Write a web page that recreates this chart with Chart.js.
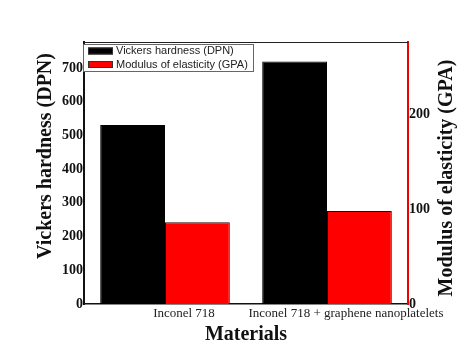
<!DOCTYPE html>
<html>
<head>
<meta charset="utf-8">
<script src="https://cdn.jsdelivr.net/npm/chart.js@4/dist/chart.umd.min.js"></script>
<style>
  html, body { margin: 0; padding: 0; background: #fff; }
  #wrap { width: 474px; height: 355px; }
</style>
</head>
<body>
<div id="wrap"><canvas id="c" width="474" height="355"></canvas></div>
<script>
const categories = ["Inconel 718", "Inconel 718 + graphene nanoplatelets"];
const hardnessDPN = [531, 719];
const modulusGPA = [86.5, 98.4];
const leftTicks = [0, 100, 200, 300, 400, 500, 600, 700];
const rightTicks = [0, 100, 200];
const leftTitle = "Vickers hardness (DPN)";
const rightTitle = "Modulus of elasticity (GPA)";
const xTitle = "Materials";

const serif = "'Liberation Serif', 'Times New Roman', serif";
const sans = "'Liberation Sans', Arial, sans-serif";

const framePlugin = {
  id: 'frame',
  afterDraw(chart) {
    const ctx = chart.ctx;
    const a = chart.chartArea;
    ctx.save();
    // top border
    ctx.strokeStyle = '#222';
    ctx.lineWidth = 1;
    ctx.beginPath();
    ctx.moveTo(a.left, a.top + 0.5);
    ctx.lineTo(a.right, a.top + 0.5);
    ctx.stroke();
    // legend (inside plot, top-left)
    const lx = a.left - 0.5, ly = a.top + 2.5;
    ctx.fillStyle = '#fff';
    ctx.fillRect(lx, ly, 170, 27);
    ctx.strokeStyle = '#666';
    ctx.strokeRect(lx, ly, 170, 27);
    ctx.font = "11px " + sans;
    ctx.textAlign = 'left';
    ctx.textBaseline = 'middle';
    chart.data.datasets.forEach((ds, i) => {
      const cy = a.top + 9 + i * 13.5;
      ctx.fillStyle = ds.backgroundColor;
      ctx.fillRect(a.left + 4, cy - 3.5, 25, 7);
      ctx.strokeStyle = '#333';
      ctx.strokeRect(a.left + 4.5, cy - 3, 24, 6);
      ctx.fillStyle = '#222';
      ctx.fillText(ds.label, a.left + 32, cy);
    });
    // y titles
    ctx.fillStyle = '#111';
    ctx.font = "bold 20px " + serif;
    ctx.textAlign = 'center';
    ctx.textBaseline = 'middle';
    ctx.save();
    ctx.translate(46, 156);
    ctx.rotate(-Math.PI / 2);
    ctx.fillText(leftTitle, 0, 0);
    ctx.restore();
    ctx.save();
    ctx.translate(447, 178);
    ctx.rotate(-Math.PI / 2);
    ctx.fillText(rightTitle, 0, 0);
    ctx.restore();
    ctx.restore();
  }
};

new Chart(document.getElementById('c'), {
  type: 'bar',
  data: {
    labels: categories,
    datasets: [
      { label: 'Vickers hardness (DPN)', data: hardnessDPN, yAxisID: 'y',
        backgroundColor: '#000000', borderColor: '#000000', borderWidth: 1,
        categoryPercentage: 0.8, barPercentage: 1.0 },
      { label: 'Modulus of elasticity (GPA)', data: modulusGPA, yAxisID: 'y1',
        backgroundColor: '#ff0000', borderColor: '#3a0000', borderWidth: 1,
        categoryPercentage: 0.8, barPercentage: 1.0 }
    ]
  },
  options: {
    responsive: false,
    animation: false,
    devicePixelRatio: 1,
    layout: { padding: { top: 42, left: 0, right: 0, bottom: 0 } },
    plugins: {
      tooltip: { enabled: false },
      legend: { display: false }
    },
    scales: {
      x: {
        grid: { display: false, drawTicks: false },
        border: { display: true, color: '#111', width: 1.5 },
        ticks: { font: { family: serif, size: 13 }, color: '#222', labelOffset: 19, padding: 2, autoSkip: false, maxRotation: 0 },
        title: { display: true, text: xTitle, font: { family: serif, size: 20, weight: 'bold' }, color: '#111', padding: { top: 0, bottom: 8 } },
        afterFit(s) { s.height = 51; s.paddingLeft = 0; s.paddingRight = 0; }
      },
      y: {
        position: 'left',
        min: 0, max: 777,
        grid: { display: false, drawTicks: false },
        border: { display: true, color: '#111', width: 2 },
        afterBuildTicks(s) { s.ticks = leftTicks.map(v => ({ value: v })); },
        ticks: { font: { family: serif, size: 14, weight: 'bold' }, color: '#111', padding: 1 },
        afterFit(s) { s.width = 84; s.paddingTop = 0; s.paddingBottom = 0; }
      },
      y1: {
        position: 'right',
        min: 0, max: 277,
        grid: { display: false, drawTicks: false },
        border: { display: true, color: '#ee0000', width: 2 },
        afterBuildTicks(s) { s.ticks = rightTicks.map(v => ({ value: v })); },
        ticks: { font: { family: serif, size: 14, weight: 'bold' }, color: '#111', padding: 1 },
        afterFit(s) { s.width = 66; s.paddingTop = 0; s.paddingBottom = 0; }
      }
    }
  },
  plugins: [framePlugin]
});
</script>
</body>
</html>
